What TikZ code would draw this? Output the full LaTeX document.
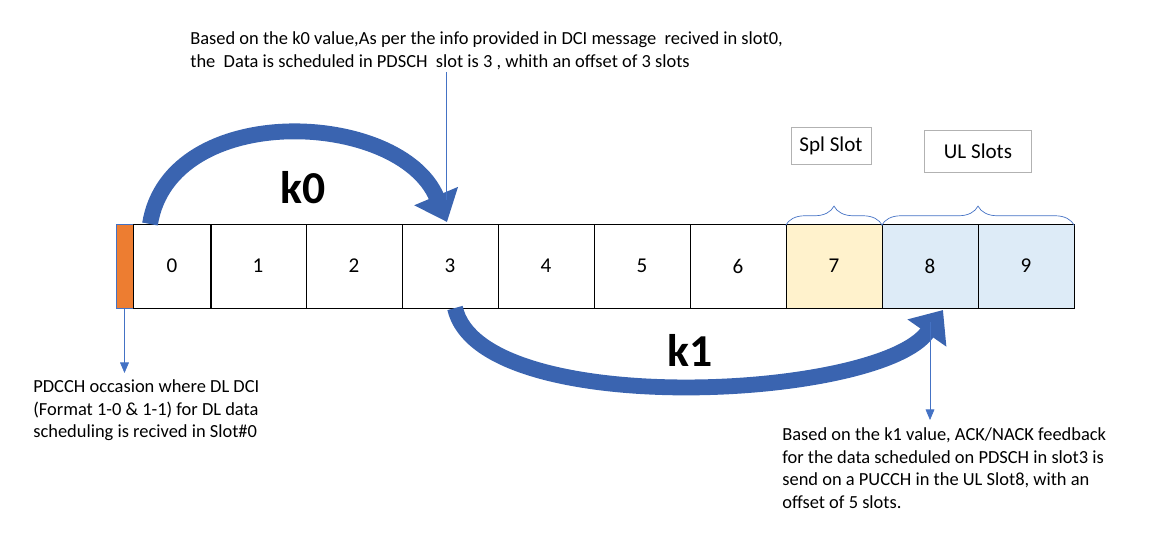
\documentclass[tikz,border=0pt]{standalone}
\usepackage{fontspec}
\setmainfont{Carlito}
\usetikzlibrary{arrows.meta,decorations.pathreplacing}
\definecolor{bandblue}{HTML}{3A64B0}
\definecolor{thinblue}{HTML}{4472C4}
\definecolor{splfill}{HTML}{FFF2CC}
\definecolor{ulfill}{HTML}{DDEBF7}
\definecolor{pdcch}{HTML}{ED7D31}
\begin{document}
\begin{tikzpicture}[x=0.02cm, y=-0.02cm,
  every node/.style={font=\fontsize{10.5pt}{13pt}\selectfont},
  slot/.style={draw=black, minimum height=1.68cm, inner sep=0pt, font=\fontsize{12pt}{14pt}\selectfont},
  band/.style={bandblue, line width=9pt, -{Triangle[length=16pt, width=26pt]}},
  pointer/.style={thinblue, -{Triangle[length=6pt, width=5pt]}},
  label box/.style={draw=gray!60, fill=white, minimum width=1.6cm, minimum height=0.74cm, font=\fontsize{12pt}{14pt}\selectfont},
  brace/.style={thinblue, decorate, decoration={brace, amplitude=11pt}},
  note/.style={align=left, anchor=north west, inner sep=0pt}]
  \useasboundingbox (0,0) rectangle (1159,544);

  % slot row
  \node[draw=thinblue, fill=pdcch, minimum width=0.34cm, minimum height=1.68cm, inner sep=0pt] (occ) at (124.5,266) {};
  \node[slot, minimum width=1.56cm] (s0) at (172,266) {0};
  \foreach \i/\x in {1/258, 2/354, 3/450, 4/546, 5/642, 6/738}
    \node[slot, minimum width=1.92cm] (s\i) at (\x,266) {\i};
  \node[slot, minimum width=1.92cm, fill=splfill] (s7) at (834,266) {7};
  \node[slot, minimum width=1.92cm, fill=ulfill] (s8) at (930,266) {8};
  \node[slot, minimum width=1.92cm, fill=ulfill] (s9) at (1026,266) {9};

  % k0 and k1
  \draw[band] (150,224) .. controls (170,100) and (400,110) .. (447,222);
  \node[font=\bfseries\fontsize{26pt}{28pt}\selectfont] (k0) at (303,188) {k0};
  \draw[band] (455,308) .. controls (480,420) and (880,400) .. (943,310);
  \node[font=\bfseries\fontsize{26pt}{28pt}\selectfont] (k1) at (690,350) {k1};

  % special and UL slots
  \node[label box] (spl) at (831,146) {Spl Slot};
  \node[label box, minimum width=2.15cm, minimum height=0.84cm] (ul) at (978,151) {UL Slots};
  \draw[brace] ([yshift=-1]s7.north west) -- ([yshift=-1]s7.north east);
  \draw[brace] ([yshift=-1]s8.north west) -- ([yshift=-1]s9.north east);

  % notes
  \node[note] (top) at (190,31) {Based on the k0 value,As per the info provided in DCI message\ \ recived in slot0,\\the\ \ Data is scheduled in PDSCH\ \ slot is 3 , whith an offset of 3 slots};
  \node[note] (left) at (33,379) {PDCCH occasion where DL DCI\\(Format 1-0 \& 1-1) for DL data\\scheduling is recived in Slot\#0};
  \node[note] (right) at (782,427) {Based on the k1 value, ACK/NACK feedback\\for the data scheduled on PDSCH in slot3 is\\send on a PUCCH in the UL Slot8, with an\\offset of 5 slots.};

  \coordinate (topfoot) at (446,72);
  \draw[thinblue] (topfoot) -- (446,200);
  \draw[pointer] (occ.south) -- (124.5,373);
  \draw[pointer] (930,322) -- (930,420);
\end{tikzpicture}
\end{document}
